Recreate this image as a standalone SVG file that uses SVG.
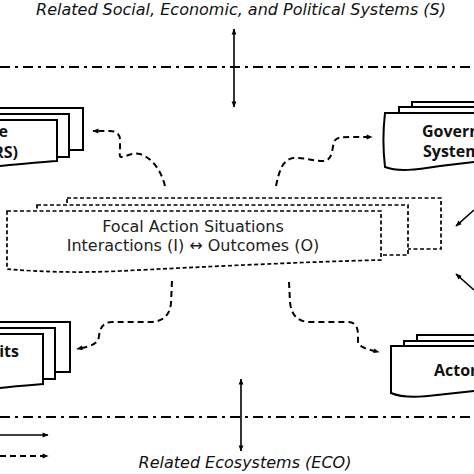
<svg xmlns="http://www.w3.org/2000/svg" width="474" height="474" viewBox="0 0 474 474">
<style>
.sys{font-family:"DejaVu Sans",Verdana,sans-serif;font-style:italic;font-size:16px;fill:#111}
.fas{font-family:"DejaVu Sans",Verdana,sans-serif;font-size:16px;fill:#222}
.lbl{font-family:"Open Sans","Liberation Sans",sans-serif;font-weight:bold;font-size:16px;fill:#111}
.node{fill:#fff;stroke:#000;stroke-width:2;stroke-linejoin:miter}
.dnode{fill:#fff;stroke:#000;stroke-width:1.7;stroke-dasharray:4 2.5}
.sep{fill:none;stroke:#000;stroke-width:2;stroke-dasharray:10 5 3 5}
.solid{fill:none;stroke:#000;stroke-width:1.6}
.dash{fill:none;stroke:#000;stroke-width:2;stroke-dasharray:6 4}
</style>
<defs>
<marker id="arr" viewBox="0 0 10 10" refX="9" refY="5" markerWidth="7" markerHeight="6" markerUnits="userSpaceOnUse" orient="auto-start-reverse">
<path d="M0,1 L10,5 L0,9 z" fill="#000"/>
</marker>
</defs>

<g id="labels">
<text class="sys" x="241" y="15" text-anchor="middle">Related Social, Economic, and Political Systems (S)</text>
<text class="sys" x="245" y="468" text-anchor="middle">Related Ecosystems (ECO)</text>
</g>

<g id="separators">
<line class="sep" x1="0" y1="67" x2="474" y2="67"/>
<line class="sep" x1="0" y1="417" x2="474" y2="417"/>
</g>

<g id="node-rs">
<path class="node" d="M0,108 H83 V150 H0"/>
<path class="node" d="M0,114 H69 V157 H0"/>
<path class="node" d="M0,120 H57 V161 C40,162 20,164 0,166"/>
<text class="lbl" x="8" y="137" text-anchor="end">e</text>
<text class="lbl" x="18" y="158" text-anchor="end">RS)</text>
</g>

<g id="node-gs">
<path class="node" d="M474,102 H412 V120 H474"/>
<path class="node" d="M474,107 H399 V120 H474"/>
<path class="node" d="M474,113 H385 C383,130 383,150 385,167 C398,172 415,170 440,166 L474,162"/>
<text class="lbl" x="422" y="137">Govern</text>
<text class="lbl" x="423" y="157">System</text>
</g>

<g id="node-fas">
<path class="dnode" d="M67,198 H441 V249 H67 Z"/>
<path class="dnode" d="M37,205 H408 V255 H37 Z"/>
<path class="dnode" d="M7,211 H381 V260 C300,262 200,267 120,271 C80,273 40,272 7,269 Z"/>
<text class="fas" x="193" y="232" text-anchor="middle">Focal Action Situations</text>
<text class="fas" x="193" y="251" text-anchor="middle">Interactions (I) ↔ Outcomes (O)</text>
</g>

<g id="node-ru">
<path class="node" d="M0,322 H70 V372 H0"/>
<path class="node" d="M0,328 H55 V379 H0"/>
<path class="node" d="M0,334 H43 V384 C30,385 15,386 0,388"/>
<text class="lbl" x="19" y="357" text-anchor="end">its</text>
</g>

<g id="node-a">
<path class="node" d="M474,335 H417 V350 H474"/>
<path class="node" d="M474,341 H404 V350 H474"/>
<path class="node" d="M474,346 H391 V393 C400,397 415,398 437,395 L474,391"/>
<text class="lbl" x="434" y="376">Actor</text>
</g>

<g id="connectors">
<line class="solid" x1="234" y1="29" x2="234" y2="107" marker-start="url(#arr)" marker-end="url(#arr)"/>
<line class="solid" x1="241" y1="379" x2="241" y2="451" marker-start="url(#arr)" marker-end="url(#arr)"/>
<path class="dash" d="M165,186 C161,170 152,158 140,154 C132,152 126,157 121,157 C119,157 120,152 120,148 L120,140 C120,134 116,131 110,131 L93,131" marker-end="url(#arr)"/>
<path class="dash" d="M276,186 C279,172 282,160 293,158 C303,157 313,161 323,161 C333,161 332,148 334,142 C336,137 342,137 350,137 L372,137" marker-end="url(#arr)"/>
<path class="dash" d="M289,282 L290,302 C291,315 298,322 310,322 L348,322 C356,322 358,328 358,335 L358,342 C359,347 366,349 379,352" marker-end="url(#arr)"/>
<path class="dash" d="M172,281 L171,303 C170,315 163,322 150,322 L112,322 C103,322 100,328 99,336 C98,344 92,346 77,349" marker-end="url(#arr)"/>
<line class="solid" x1="474" y1="210" x2="456" y2="226" marker-end="url(#arr)"/>
<line class="solid" x1="474" y1="290" x2="456" y2="274" marker-end="url(#arr)"/>
<line class="solid" x1="0" y1="435" x2="48" y2="435" marker-end="url(#arr)"/>
<line class="dash" x1="0" y1="456" x2="48" y2="456" marker-end="url(#arr)"/>
</g>
</svg>
